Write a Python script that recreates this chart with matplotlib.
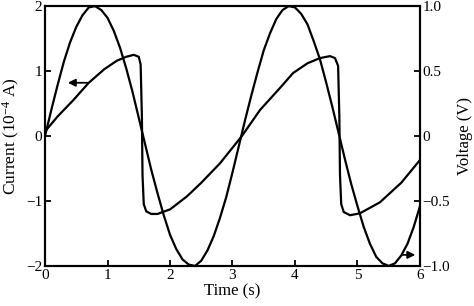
import numpy as np
import matplotlib.pyplot as plt

plt.rcParams['font.family'] = ['Liberation Serif', 'DejaVu Serif']
plt.rcParams['mathtext.fontset'] = 'custom'
plt.rcParams['mathtext.rm'] = 'Liberation Serif'
plt.rcParams['mathtext.default'] = 'regular'

# current (10^-4 A)
t_current = [0, 0.2, 0.45, 0.7, 0.95, 1.15, 1.3, 1.42, 1.5, 1.53, 1.55, 1.56, 1.58, 1.62,
             1.7, 1.8, 2.0, 2.27, 2.5, 2.8, 3.15, 3.44, 3.76, 3.97, 4.2, 4.4, 4.56, 4.64,
             4.69, 4.71, 4.72, 4.74, 4.78, 4.88, 5.04, 5.36, 5.7, 6.0]
current = [0.07, 0.3, 0.55, 0.82, 1.03, 1.16, 1.22, 1.25, 1.22, 1.1, 0.3, -0.6, -1.05, -1.16,
           -1.2, -1.2, -1.13, -0.93, -0.72, -0.42, 0.0, 0.4, 0.74, 0.97, 1.12, 1.2, 1.23, 1.2,
           1.08, 0.3, -0.6, -1.05, -1.17, -1.22, -1.19, -1.02, -0.72, -0.37]

# voltage (V)
t_voltage = [round(0.1 * k, 1) for k in range(61)]
voltage = [0.0, 0.2, 0.39, 0.57, 0.72, 0.84, 0.93, 0.99, 1.0, 0.97,
           0.91, 0.81, 0.68, 0.52, 0.34, 0.14, -0.06, -0.26, -0.44, -0.61,
           -0.76, -0.87, -0.95, -0.99, -1.0, -0.96, -0.88, -0.77, -0.63, -0.47,
           -0.28, -0.08, 0.12, 0.31, 0.49, 0.66, 0.79, 0.9, 0.97, 1.0,
           0.99, 0.94, 0.86, 0.73, 0.59, 0.41, 0.22, 0.02, -0.18, -0.37,
           -0.54, -0.7, -0.83, -0.93, -0.98, -1.0, -0.98, -0.92, -0.83, -0.7,
           -0.54]

fig = plt.figure(figsize=(4.74, 3.06), dpi=100)
ax = fig.add_axes([0.095, 0.131, 0.791, 0.849])
ax2 = ax.twinx()

ax.plot(t_current, current, color='black', lw=1.6)
ax2.plot(t_voltage, voltage, color='black', lw=1.6)

ax.set_xlim(0, 6)
ax.set_ylim(-2, 2)
ax2.set_ylim(-1, 1)
ax.set_xticks(range(7))
ax.set_yticks([-2, -1, 0, 1, 2])
ax2.set_yticks([-1, -0.5, 0, 0.5, 1])
ax.set_yticklabels(['\u22122', '\u22121', '0', '1', '2'])
ax2.set_yticklabels(['\u22121.0', '\u22120.5', '0', '0.5', '1.0'])

for a in (ax, ax2):
    for s in a.spines.values():
        s.set_linewidth(1.5)
    a.tick_params(direction='in', length=4, width=1.3, labelsize=11, pad=2)
ax.tick_params(axis='y', right=False)
ax2.tick_params(axis='y', left=False)

ax.set_xlabel('Time (s)', fontsize=12, labelpad=1)
ax.set_ylabel('Current (10$^{-4}$ A)', fontsize=12.5, labelpad=3)
ax2.set_ylabel('Voltage (V)', fontsize=12, labelpad=5)

ax.annotate('', xy=(0.32, 0.82), xytext=(0.72, 0.82),
            arrowprops=dict(arrowstyle='-|>', color='black', lw=1.3, mutation_scale=11))
ax2.annotate('', xy=(5.97, -0.915), xytext=(5.68, -0.915),
             arrowprops=dict(arrowstyle='-|>', color='black', lw=1.3, mutation_scale=11))

fig.savefig('out.png', dpi=100)
